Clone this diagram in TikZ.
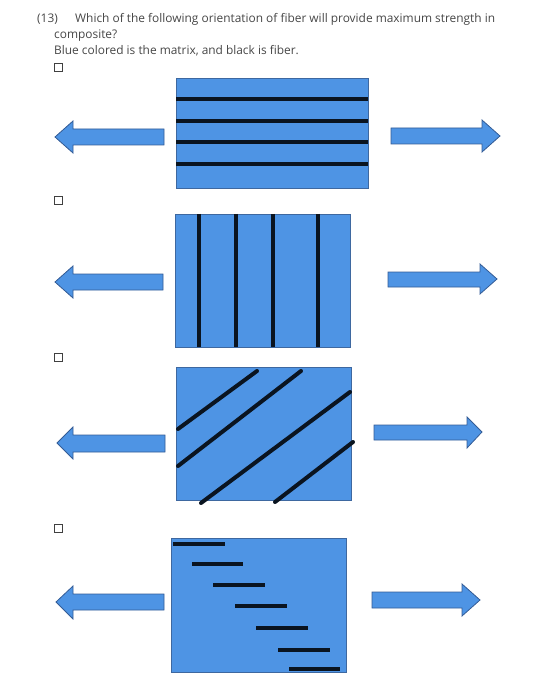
\documentclass[tikz,border=0pt]{standalone}
\usepackage{fontspec}
\setmainfont{Open Sans}
\definecolor{matblue}{RGB}{78,148,228}
\definecolor{edgeblue}{RGB}{62,104,160}
\definecolor{arrowedge}{RGB}{52,92,150}
\definecolor{fibercol}{RGB}{10,20,32}
\definecolor{qtext}{RGB}{70,70,70}

\begin{document}
\begin{tikzpicture}[x=1pt,y=-1pt,
    matrixbox/.style={draw=edgeblue,fill=matblue,line width=0.8pt},
    fiber/.style={draw=fibercol,line width=4pt},
    pull/.style={draw=arrowedge,fill=matblue,line width=0.8pt,line join=miter},
    tickbox/.style={draw=black!75,line width=1pt,minimum size=8pt,inner sep=0pt},
    qline/.style={anchor=base west,inner sep=0pt,text=qtext,font=\fontsize{11.9}{14}\selectfont}]
    \useasboundingbox (0,0) rectangle (542,700);
    % question text
    \node[qline] (num) at (37,23) {(13)};
    \node[qline] (q1) at (75,23) {Which of the following orientation of fiber will provide maximum strength in};
    \node[qline] (q2) at (54,39) {composite?};
    \node[qline] (q3) at (54,55) {Blue colored is the matrix, and black is fiber.};
    % tick boxes
    \node[tickbox] (tick1) at (58,68) {};
    \node[tickbox] (tick2) at (58,201) {};
    \node[tickbox] (tick3) at (58,357) {};
    \node[tickbox] (tick4) at (58,528) {};

    % (a) fibers along the load
    \draw[matrixbox] (176,78) rectangle (368,188);
    \draw[fiber] (176,99) -- (368,99);
    \draw[fiber] (176,121) -- (368,121);
    \draw[fiber] (176,142) -- (368,142);
    \draw[fiber] (176,164) -- (368,164);
    \draw[pull] (164,129) -- ++(-91,0) -- ++(0,-8) -- ++(-18,16) -- ++(18,16) -- ++(0,-8) -- ++(91,0) -- cycle;
    \draw[pull] (391,128) -- ++(91,0) -- ++(0,-8) -- ++(18,16) -- ++(-18,16) -- ++(0,-8) -- ++(-91,0) -- cycle;

    % (b) fibers across the load
    \draw[matrixbox] (175,214) rectangle (350,347);
    \draw[fiber] (199,214) -- (199,347);
    \draw[fiber] (236,214) -- (236,347);
    \draw[fiber] (273,214) -- (273,347);
    \draw[fiber] (318,214) -- (318,347);
    \draw[pull] (163,274) -- ++(-90,0) -- ++(0,-8) -- ++(-18,16) -- ++(18,16) -- ++(0,-8) -- ++(90,0) -- cycle;
    \draw[pull] (388,272) -- ++(92,0) -- ++(0,-8) -- ++(17,15) -- ++(-17,15) -- ++(0,-7) -- ++(-92,0) -- cycle;

    % (c) inclined fibers
    \draw[matrixbox] (176,367) rectangle (351,500);
    \draw[fiber,line cap=round] (178,429) -- (257,371);
    \draw[fiber,line cap=round] (178,466) -- (301,371);
    \draw[fiber,line cap=round] (201,503) -- (350,392);
    \draw[fiber,line cap=round] (275,502) -- (353,442);
    \draw[pull] (165,435) -- ++(-92,0) -- ++(0,-8) -- ++(-16,16) -- ++(16,16) -- ++(0,-7) -- ++(92,0) -- cycle;
    \draw[pull] (374,425) -- ++(93,0) -- ++(0,-8) -- ++(15,15) -- ++(-15,16) -- ++(0,-8) -- ++(-93,0) -- cycle;

    % (d) short staggered fibers
    \draw[matrixbox] (171,538) rectangle (346,672);
    \draw[fiber] (173,544) -- (225,544);
    \draw[fiber] (192,564) -- (243,564);
    \draw[fiber] (213,585) -- (265,585);
    \draw[fiber] (235,606) -- (287,606);
    \draw[fiber] (256,628) -- (308,628);
    \draw[fiber] (278,650) -- (330,650);
    \draw[fiber] (289,669) -- (340,669);
    \draw[pull] (164,594) -- ++(-91,0) -- ++(0,-8) -- ++(-17,16) -- ++(17,17) -- ++(0,-9) -- ++(91,0) -- cycle;
    \draw[pull] (372,592) -- ++(90,0) -- ++(0,-8) -- ++(18,16) -- ++(-18,16) -- ++(0,-8) -- ++(-90,0) -- cycle;
\end{tikzpicture}
\end{document}
